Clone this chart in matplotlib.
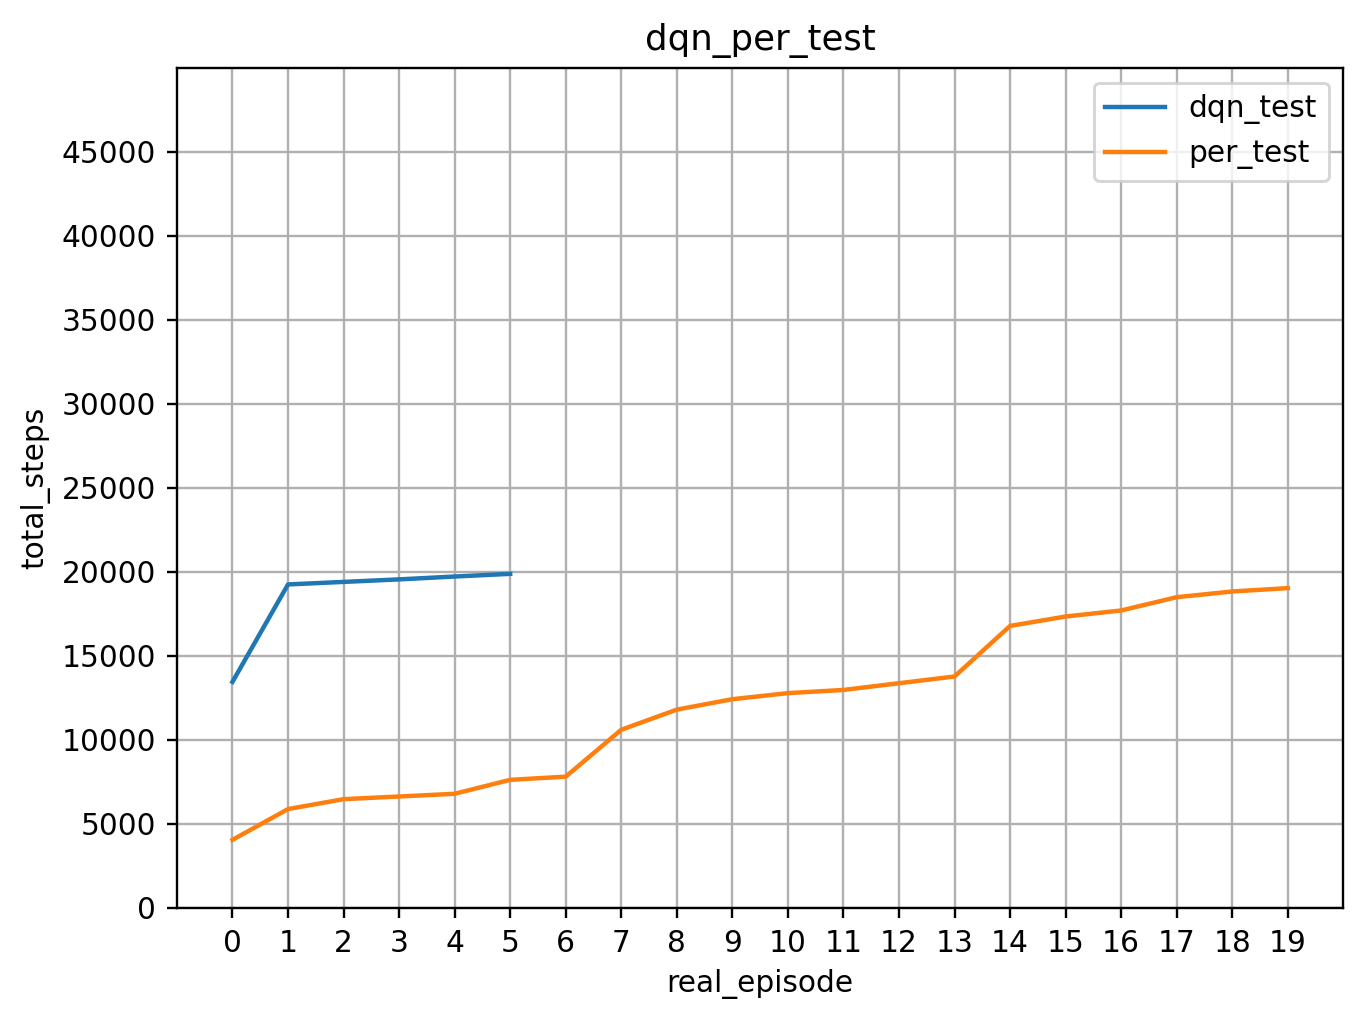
import numpy as np
import matplotlib
matplotlib.use('Agg')
import matplotlib.pyplot as plt

# values
dqn_episode = [0, 1, 2, 3, 4, 5]
dqn_steps = [13450, 19250, 19400, 19550, 19720, 19880]

per_episode = list(range(20))
per_steps = [4050, 5880, 6470, 6630, 6790, 7620, 7810, 10600, 11800, 12420,
             12780, 12970, 13370, 13770, 16780, 17340, 17700, 18490, 18830, 19030]

dpi = 213
fig = plt.figure(figsize=(1361/dpi, 1011/dpi), dpi=dpi)
ax1 = fig.add_axes([0.130, 0.102, 0.857, 0.831])

ax1.plot(dqn_episode, dqn_steps, label='dqn_test')
ax1.plot(per_episode, per_steps, label='per_test')

ax1.set_xlim(-1, 20)
ax1.set_ylim(0, 50000)
ax1.set_xticks(per_episode)
ax1.set_yticks(np.arange(0, 50000, 5000))
ax1.grid(True)
ax1.set_xlabel('real_episode')
ax1.set_ylabel('total_steps')
ax1.set_title('dqn_per_test')
ax1.legend(loc='upper right')

fig.savefig('out.png', dpi=dpi)
